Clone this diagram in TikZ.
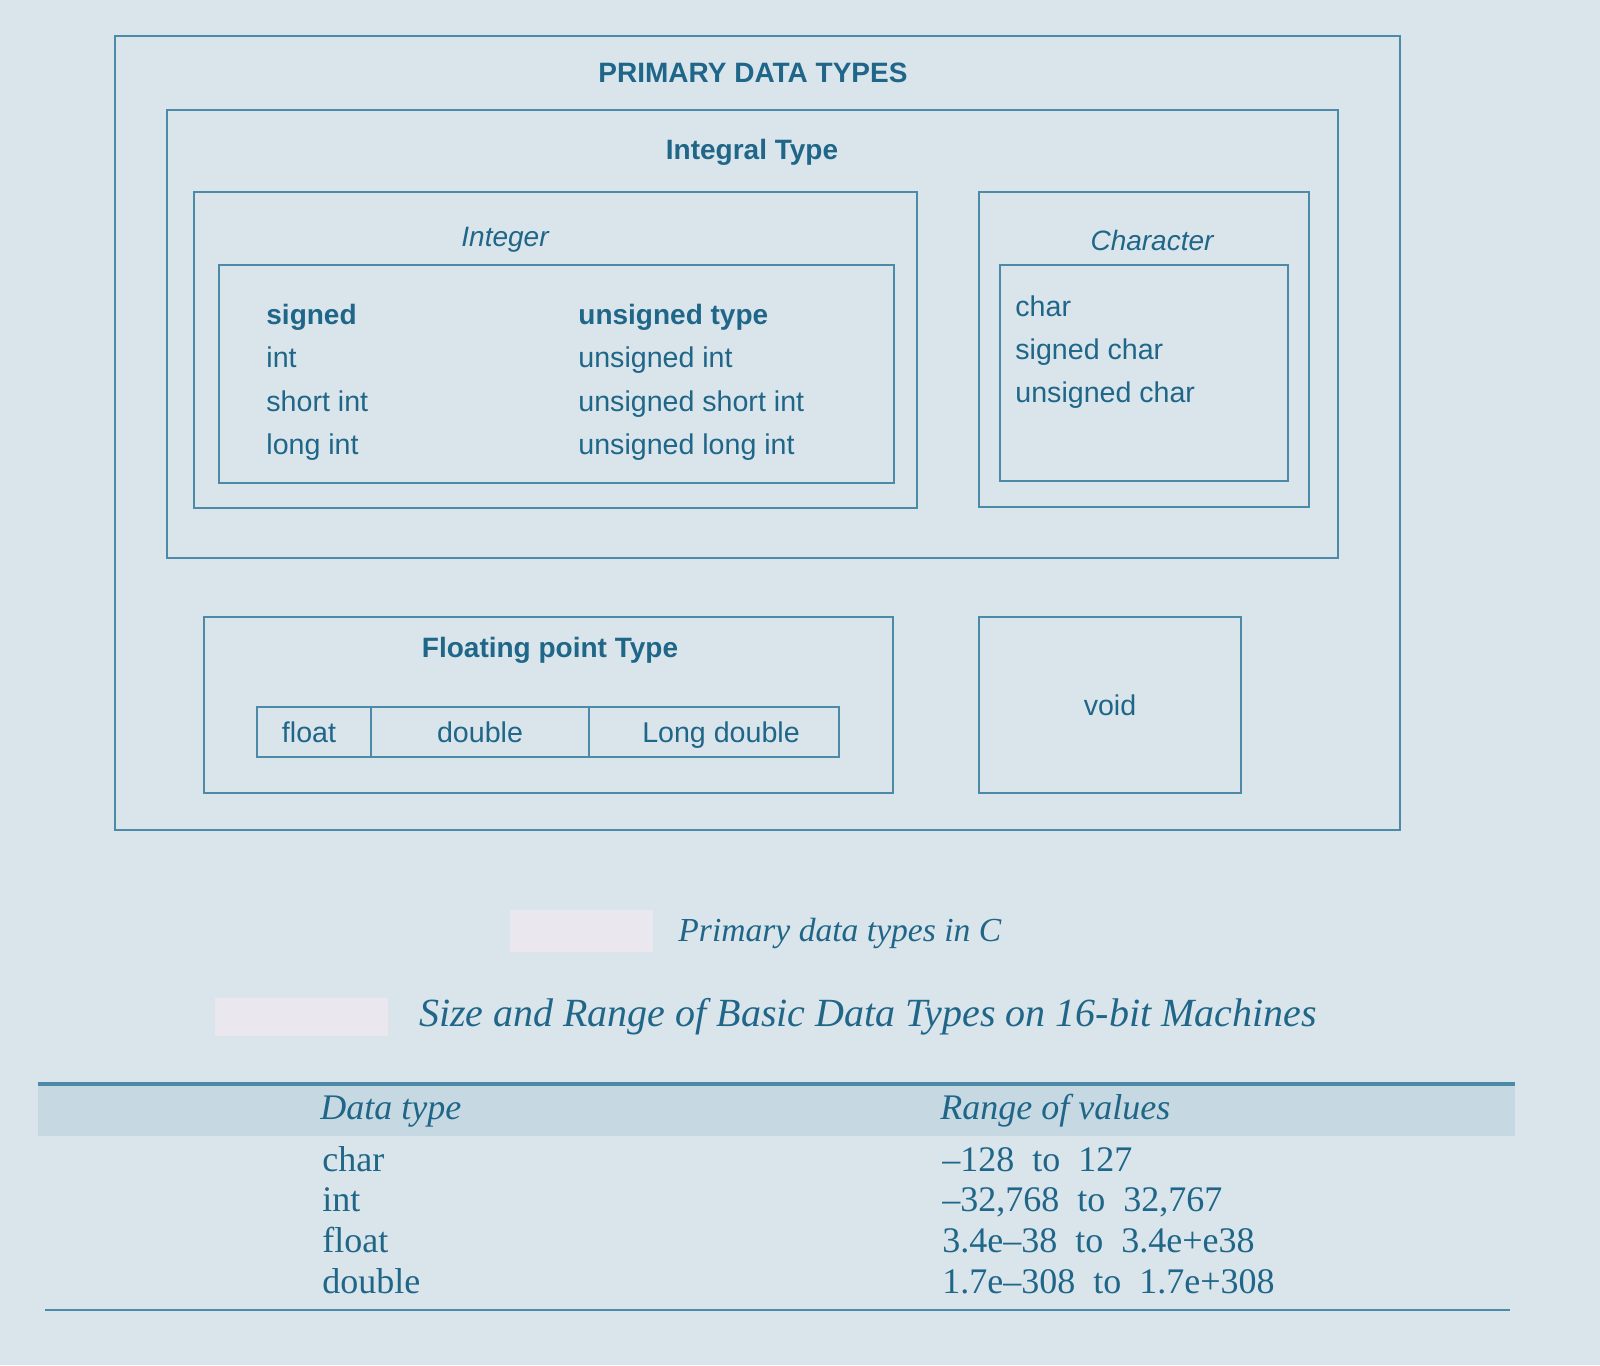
\documentclass[tikz,border=0pt]{standalone}
\usepackage{fontspec}
\setmainfont{Liberation Serif}
\setsansfont{Liberation Sans}
\definecolor{bgc}{HTML}{D9E5EB}
\definecolor{ink}{HTML}{1F6688}
\definecolor{linec}{HTML}{4C8AA7}
\definecolor{band}{HTML}{C6D9E3}
\definecolor{patch}{HTML}{EAE8EE}
\tikzset{
  box/.style={draw=linec, line width=1.3pt},
  sans/.style={text=ink, font=\sffamily\fontsize{14.3}{16}\selectfont, inner sep=0pt},
  sansb/.style={sans, font=\sffamily\bfseries\fontsize{14}{16}\selectfont},
  sansi/.style={sans, font=\sffamily\itshape\fontsize{14}{16}\selectfont},
  serif/.style={text=ink, font=\rmfamily\fontsize{18}{20}\selectfont, inner sep=0pt},
  serifi/.style={serif, font=\rmfamily\itshape\fontsize{18}{20}\selectfont},
  capone/.style={serif, font=\rmfamily\itshape\fontsize{16.8}{19}\selectfont},
  captwo/.style={serif, font=\rmfamily\itshape\fontsize{20}{22}\selectfont},
  rule/.style={draw=linec, line width=2pt}
}
\begin{document}
\begin{tikzpicture}[x=0.5pt,y=-0.5pt]
\useasboundingbox (0,0) rectangle (1600,1365);
\fill[bgc] (0,0) rectangle (1600,1365);
% outer frames
\draw[box] (115,36) rectangle (1400,830);
\node[sansb] (title) at (753,73) {PRIMARY DATA TYPES};
\draw[box] (167,110) rectangle (1338,558);
\node[sansb] (integral) at (752,152) {Integral Type};
% Integer
\draw[box] (194,192) rectangle (917,508);
\node[sansi] (integer) at (505,240) {Integer};
\draw[box] (219,265) rectangle (894,483);
\node[sansb, anchor=base west] (signed) at (266,324) {signed};
\node[sans, anchor=base west] (int) at (266,367) {int};
\node[sans, anchor=base west] (shortint) at (266,411) {short int};
\node[sans, anchor=base west] (longint) at (266,454) {long int};
\node[sansb, anchor=base west] (unsignedtype) at (578,324) {unsigned type};
\node[sans, anchor=base west] (uint) at (578,367) {unsigned int};
\node[sans, anchor=base west] (ushort) at (578,411) {unsigned short int};
\node[sans, anchor=base west] (ulong) at (578,454) {unsigned long int};
% Character
\draw[box] (979,192) rectangle (1309,507);
\node[sansi] (character) at (1152,240) {Character};
\draw[box] (1000,265) rectangle (1288,481);
\node[sans, anchor=base west] (char) at (1015,316) {char};
\node[sans, anchor=base west] (schar) at (1015,359) {signed char};
\node[sans, anchor=base west] (uchar) at (1015,402) {unsigned char};
% Floating point
\draw[box] (204,617) rectangle (893,793);
\node[sansb] (floating) at (550,650) {Floating point Type};
\draw[box] (257,707) rectangle (839,757);
\draw[box] (371,707) -- (371,757);
\draw[box] (589,707) -- (589,757);
\node[sans, anchor=base] (float) at (309,742) {float};
\node[sans, anchor=base] (double) at (480,742) {double};
\node[sans, anchor=base] (ldouble) at (721,742) {Long double};
% void
\draw[box] (979,617) rectangle (1241,793);
\node[sans, anchor=base] (void) at (1110,715) {void};
% captions
\fill[patch] (510,910) rectangle (653,952);
\node[capone, anchor=base west] (cap1) at (678,941) {Primary data types in C};
\fill[patch] (215,998) rectangle (388,1036);
\node[captwo, anchor=base] (cap2) at (868,1026) {Size and Range of Basic Data Types on 16-bit Machines};
% table
\fill[band] (38,1086) rectangle (1515,1136);
\draw[rule] (38,1084) -- (1515,1084);
\draw[draw=linec, line width=1.2pt] (45,1310) -- (1510,1310);
\node[serifi, anchor=base west] (hdt) at (320,1119) {Data type};
\node[serifi, anchor=base west] (hrv) at (940,1119) {Range of values};
\node[serif, anchor=base west] (r1a) at (322,1171) {char};
\node[serif, anchor=base west] (r2a) at (322,1211) {int};
\node[serif, anchor=base west] (r3a) at (322,1252) {float};
\node[serif, anchor=base west] (r4a) at (322,1293) {double};
\node[serif, anchor=base west] (r1b) at (942,1171) {–128 \ to \ 127};
\node[serif, anchor=base west] (r2b) at (942,1211) {–32,768 \ to \ 32,767};
\node[serif, anchor=base west] (r3b) at (942,1252) {3.4e–38 \ to \ 3.4e+e38};
\node[serif, anchor=base west] (r4b) at (942,1293) {1.7e–308 \ to \ 1.7e+308};
\end{tikzpicture}
\end{document}
